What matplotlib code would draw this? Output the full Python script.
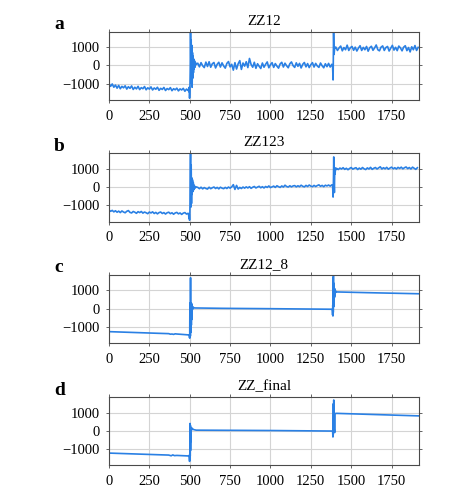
import numpy as np
import matplotlib
matplotlib.use("Agg")
import matplotlib.pyplot as plt

# ---- data ----
# panel a (ZZ12): noisy segments sampled on a regular grid + hand-read transients
a_seg1_start, a_seg1_step = 0, 10
a_seg1 = [-1000, -1150, -1020, -1200, -1080, -1250, -1100, -1280, -1150, -1230,
          -1120, -1300, -1170, -1260, -1130, -1320, -1200, -1290, -1150, -1330,
          -1220, -1280, -1160, -1340, -1230, -1300, -1180, -1350, -1240, -1310,
          -1200, -1370, -1260, -1320, -1210, -1380, -1270, -1330, -1220, -1390,
          -1280, -1340, -1250, -1400, -1290, -1350, -1260, -1420, -1300, -1380]
a_tr1_x = [493, 495, 497, 499, 501, 503, 505, 507, 509, 511, 513, 515, 517, 519, 521, 523, 525, 527, 530, 533, 536, 540]
a_tr1_y = [-1300, -1450, -1200, -1800, -1400, -300, 1850, 200, 1400, -1000, 1100, -1200, 700, -700, 500, -400, 350, -200, 250, -100, 150, 50]
a_seg2_start, a_seg2_step = 550, 10
a_seg2 = [120, -80, 150, -20, -120, 180, -60, 200, -100, 90, 160, -140, 60, 170, -90, 140, -30, -150, 110, 210,
          -80, 60, -260, 150, -200, 90, 260, -220, 130, -40, 200, -120, 380, 50, -100, 170, -160, 90, -50, -170,
          130, -100, 60, 190, -130, 40, 150, -110, 100, -40, -150, 80, 170, -90, 120, -20, -130, 90, 190, -10,
          -110, 140, -50, 110, -140, 60, 160, -80, 100, -120, 40, 150, -90, 110, -30, -110, 130, -20, -130, 90,
          -70, 110, -90, 60]
a_tr2_x = [1385, 1388, 1391, 1394, 1397, 1400]
a_tr2_y = [-100, -800, 1850, 600, 900, 1000]
a_seg3_start, a_seg3_step = 1405, 10
a_seg3 = [1000, 820, 960, 1060, 800, 980, 860, 1110, 820, 970, 1040, 830, 1000, 790, 950, 1080, 820, 990, 860, 1040,
          780, 970, 1050, 830, 960, 1120, 860, 800, 1000, 1070, 820, 980, 1040, 790, 950, 1100, 840, 990, 810, 1060,
          960, 800, 1000, 1080, 810, 980, 740, 1020, 860, 1090, 820, 990]

# panel b (ZZ123)
b_seg1_start, b_seg1_step = 0, 10
b_seg1 = [-1260, -1330, -1280, -1360, -1300, -1380, -1320, -1400, -1310, -1370,
          -1410, -1330, -1290, -1390, -1420, -1340, -1380, -1440, -1350, -1400,
          -1340, -1430, -1370, -1410, -1460, -1370, -1420, -1360, -1450, -1390,
          -1470, -1400, -1370, -1450, -1400, -1480, -1410, -1380, -1460, -1410,
          -1490, -1420, -1390, -1470, -1420, -1500, -1430, -1400, -1480, -1440]
b_tr1_x = [493, 495, 497, 499, 501, 503, 505, 507, 509, 511, 513, 515, 517, 519, 522, 525, 528, 533, 540]
b_tr1_y = [-1480, -1700, -1500, -1820, -1400, 200, 1850, -1100, 1200, -900, 500, -400, 400, -250, 250, -150, 100, -60, 10]
b_seg2_start, b_seg2_step = 550, 10
b_seg2 = [-20, -90, -10, -100, -30, -80, -110, -10, -90, -40, 0, -80, -20, -100, -10, -60, -90, -20, -80, 0,
          -60, 10, 130, -130, 90, -110, -20, -80, 0, -60, 10, -50, 20, -70, -10, 30, -50, 0, 40, -40,
          20, -50, 30, -20, 60, -30, 10, 50, -20, 70, 20, -20, 60, 0, 100, 30, 0, 70, 10, 60,
          80, 10, 70, 20, 100, 40, 10, 90, 30, 110, 50, 20, 90, 30, 80, 120, 40, 90, 20, 100, 60, 110, 50, 120]
b_tr2_x = [1385, 1388, 1390, 1392, 1394, 1396, 1398, 1400, 1403, 1407]
b_tr2_y = [60, -550, 300, 1650, 200, -300, 900, 700, 1050, 960]
b_seg3_start, b_seg3_step = 1410, 10
b_seg3 = [1020, 960, 1040, 990, 1060, 970, 1030, 950, 1020, 1070, 980, 1030, 1060, 960, 1040, 980, 1070, 1000, 960, 1050,
          990, 1080, 970, 1030, 1070, 990, 1050, 1110, 990, 1060, 1000, 1080, 980, 1040, 1090, 1000, 1060, 990, 1080, 1020,
          1090, 1000, 1060, 1100, 1010, 1070, 990, 1090, 1030, 970, 1060]

# panel c (ZZ12_8): smooth, just breakpoints + transients
c_x = [0, 100, 200, 300, 370, 380, 390, 400, 410, 420, 495,
       497, 499, 500, 501, 502, 503, 504, 505, 506, 507, 508, 509, 510, 511, 512, 513, 514, 515, 517, 520, 524, 530,
       700, 1000, 1380,
       1383, 1385, 1386, 1387, 1388, 1389, 1390, 1391, 1392, 1393, 1394, 1396, 1398, 1400, 1402, 1405,
       1410, 1600, 1920]
c_y = [-1260, -1290, -1320, -1350, -1370, -1400, -1390, -1410, -1380, -1390, -1440,
       -1450, -1600, -1400, 300, -1600, 200, -1500, 1700, -1300, 300, -1100, 250, -900, 300, -600, 200, -300, 150, -50, 100, 60, 40,
       20, 0, -30,
       -40, -350, 200, -400, 1700, -200, 1800, 100, 1400, 300, 1200, 600, 1100, 700, 1000, 900,
       920, 880, 820]

# panel d (ZZ_final)
d_x = [0, 100, 200, 300, 370, 385, 395, 405, 420, 495,
       497, 499, 500, 501, 502, 503, 504, 505, 506, 507, 508, 510, 513, 518, 525, 540,
       1000, 1385,
       1387, 1388, 1389, 1390, 1391, 1392, 1393, 1394, 1396, 1398, 1400,
       1410, 1920]
d_y = [-1240, -1270, -1300, -1330, -1350, -1390, -1340, -1380, -1370, -1400,
       -1420, -1700, -1300, -1650, 400, -1400, 300, -1100, 200, -600, 100, 0, 150, 100, 60, 30,
       10, -20,
       -350, 200, -200, 1500, -100, 1700, 400, 1200, 100, -100, 950,
       960, 820]

titles = ["ZZ12", "ZZ123", "ZZ12_8", "ZZ_final"]
letters = ["a", "b", "c", "d"]


def seg_x(start, step, vals):
    return start + step * np.arange(len(vals))


def build(parts):
    xs, ys = [], []
    for px, py in parts:
        xs.extend(px)
        ys.extend(py)
    return np.array(xs), np.array(ys)


series = [
    build([(seg_x(a_seg1_start, a_seg1_step, a_seg1), a_seg1), (a_tr1_x, a_tr1_y),
           (seg_x(a_seg2_start, a_seg2_step, a_seg2), a_seg2), (a_tr2_x, a_tr2_y),
           (seg_x(a_seg3_start, a_seg3_step, a_seg3), a_seg3)]),
    build([(seg_x(b_seg1_start, b_seg1_step, b_seg1), b_seg1), (b_tr1_x, b_tr1_y),
           (seg_x(b_seg2_start, b_seg2_step, b_seg2), b_seg2), (b_tr2_x, b_tr2_y),
           (seg_x(b_seg3_start, b_seg3_step, b_seg3), b_seg3)]),
    build([(c_x, c_y)]),
    build([(d_x, d_y)]),
]

plt.rcParams["font.family"] = ["Liberation Serif", "DejaVu Serif"]

W, H = 474, 492
fig = plt.figure(figsize=(W / 100, H / 100), dpi=100)

# axes boxes in pixels (left, top, right, bottom)
boxes = [(109, 31.7, 419, 100), (109, 153.3, 419, 221.7),
         (109, 275, 419, 343.3), (109, 397.3, 419, 465)]

line_color = "#2a80e4"

for i, (x, y) in enumerate(series):
    l, t, r, b = boxes[i]
    ax = fig.add_axes([l / W, 1 - b / H, (r - l) / W, (b - t) / H])
    ax.plot(x, y, color=line_color, linewidth=1.2)
    ax.set_xlim(0, 1920)
    ax.set_ylim(-1900, 1850)
    ax.set_xticks([0, 250, 500, 750, 1000, 1250, 1500, 1750])
    ax.set_yticks([-1000, 0, 1000])
    ax.set_yticklabels(["\u22121000", "0", "1000"])
    ax.grid(True, color="#d4d4d4", linewidth=0.8)
    ax.set_axisbelow(True)
    for s in ax.spines.values():
        s.set_color("#4a4a4a")
        s.set_linewidth(0.8)
    ax.tick_params(direction="out", length=2, width=0.6, color="#4a4a4a",
                   top=True, right=True, labelsize=10.5)
    ax.tick_params(axis="x", pad=5)
    ax.tick_params(axis="y", pad=4.5)
    ax.set_title(titles[i], fontsize=11, pad=5)
    fig.text(54 / W, 1 - (t - 2.5) / H, letters[i], fontsize=14,
             fontweight="bold", va="baseline", ha="left")

fig.savefig("out.png", dpi=100)
